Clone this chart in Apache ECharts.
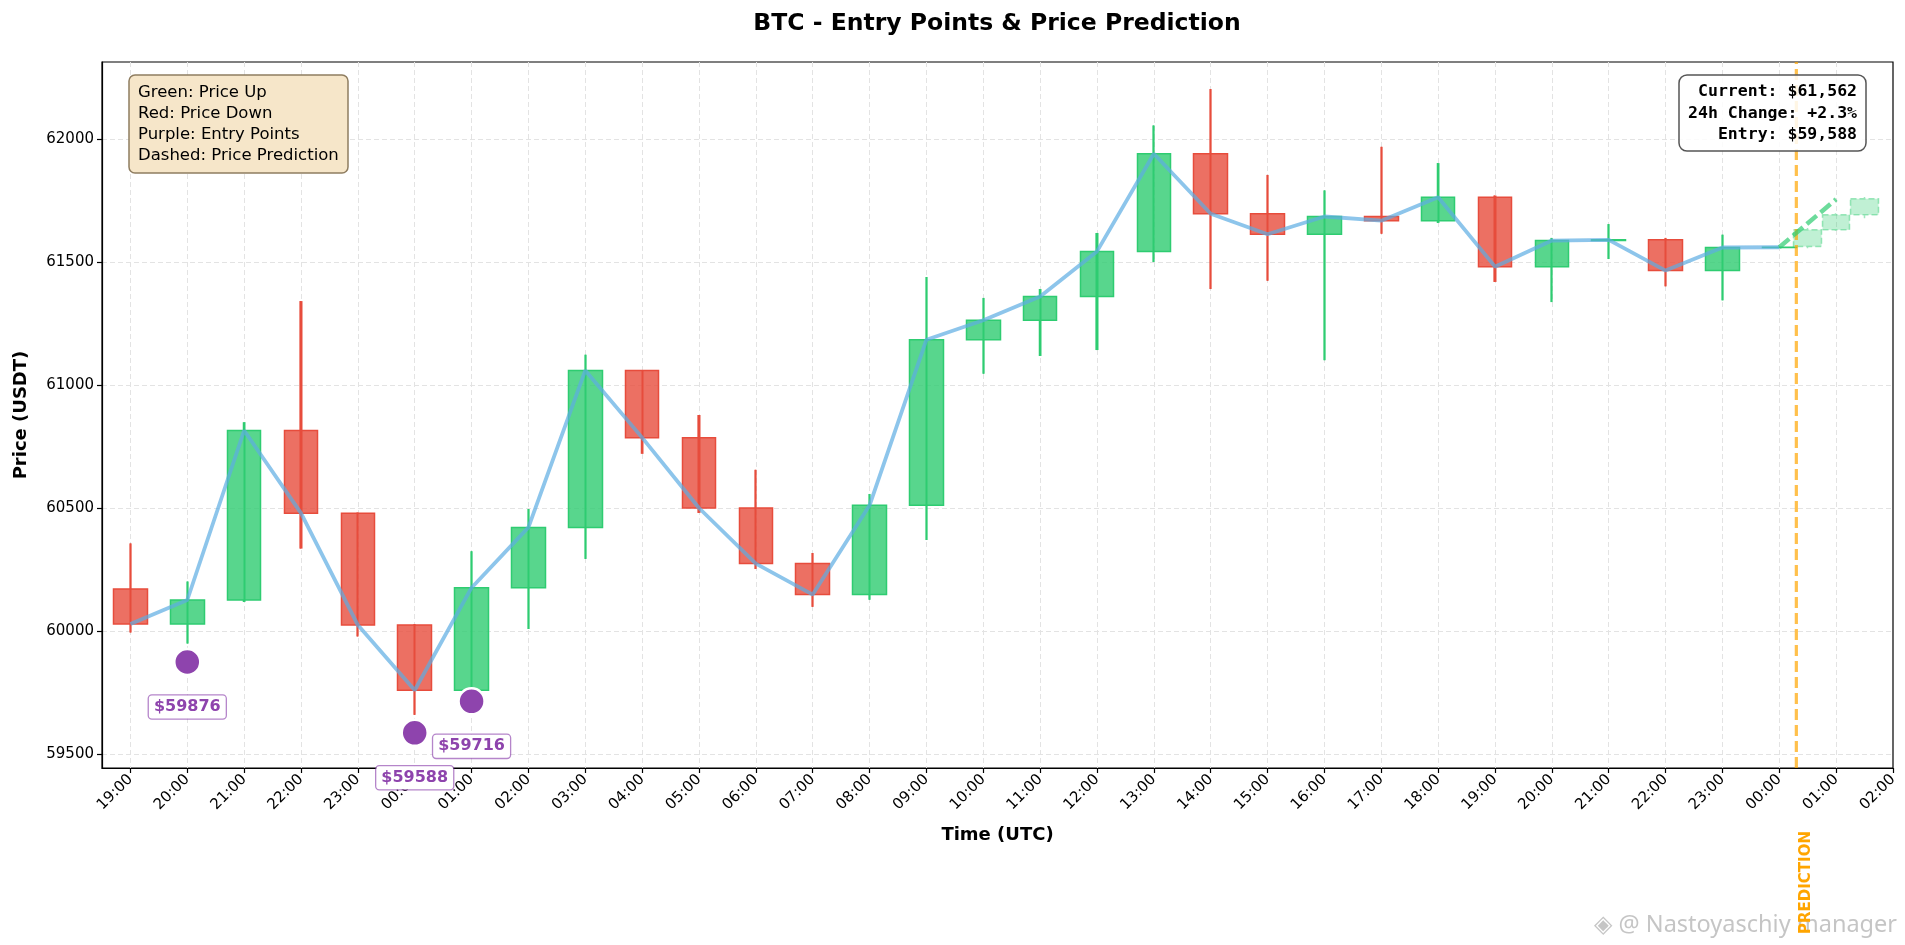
<!DOCTYPE html>
<html>
<head>
<meta charset="utf-8">
<title>BTC - Entry Points & Price Prediction</title>
<script src="https://cdn.jsdelivr.net/npm/echarts@6/dist/echarts.min.js"></script>
<style>
  html, body { margin: 0; padding: 0; background: #fff; }
  #chart { width: 1905px; height: 945px; }
</style>
</head>
<body>
<div id="chart"></div>
<script>
"use strict";

// hourly tick labels, 19:00 (day 1) .. 02:00 (day 3)
const tickLabels = ['19:00', '20:00', '21:00', '22:00', '23:00', '00:00', '01:00', '02:00',
  '03:00', '04:00', '05:00', '06:00', '07:00', '08:00', '09:00', '10:00', '11:00', '12:00',
  '13:00', '14:00', '15:00', '16:00', '17:00', '18:00', '19:00', '20:00', '21:00', '22:00',
  '23:00', '00:00', '01:00', '02:00'];

// hourly candles, index = hours after the first 19:00
const candleOpen  = [60173, 60030, 60128, 60817, 60481, 60026, 59761, 60178, 60423, 61061,
  60788, 60502, 60276, 60150, 60513, 61186, 61265, 61362, 61545, 61942,
  61698, 61615, 61687, 61670, 61765, 61483, 61589, 61592, 61467, 61561];
const candleClose = [60030, 60128, 60817, 60481, 60026, 59761, 60178, 60423, 61061, 60788,
  60502, 60276, 60150, 60513, 61186, 61265, 61362, 61545, 61942, 61698,
  61615, 61687, 61670, 61765, 61483, 61589, 61592, 61467, 61561, 61562];
const candleLow   = [59996, 59951, 60120, 60337, 59980, 59661, 59758, 60010, 60295, 60722,
  60482, 60254, 60100, 60129, 60372, 61048, 61120, 61144, 61502, 61392,
  61426, 61103, 61617, 61661, 61421, 61339, 61514, 61403, 61346, 61560];
const candleHigh  = [60358, 60203, 60851, 61343, 60484, 60030, 60326, 60498, 61125, 61061,
  60880, 60657, 60319, 60559, 61441, 61356, 61392, 61620, 62057, 62205,
  61856, 61793, 61970, 61904, 61772, 61600, 61656, 61600, 61613, 61563];

// predicted half-hour candles
const predHours = [29.5, 30, 30.5];
const predOpen  = [61565, 61633, 61694];
const predClose = [61633, 61694, 61759];
const predLow   = [61558, 61628, 61680];
const predHigh  = [61640, 61700, 61766];

// dashed prediction line
const predLineHours  = [29, 30];
const predLineValues = [61562, 61757];

// entry points
const entryHours  = [1, 5, 6];
const entryPrices = [59876, 59588, 59716];

// prediction start marker (hours after first 19:00)
const nowHour = 29.3;

// y axis
const yMin = 59445;
const yMax = 62315;
const yTicks = [59500, 60000, 60500, 61000, 61500, 62000];

const legendLines = ['Green: Price Up', 'Red: Price Down', 'Purple: Entry Points', 'Dashed: Price Prediction'];
const infoLines = ['Current: $61,562', '24h Change: +2.3%', 'Entry: $59,588'];

const GREEN = '#2ECC71';
const RED = '#E74C3C';
const FONT = 'DejaVu Sans';

// half-hour slots: slot 0 = 18:30, odd slots are the whole hours
const slotNames = [];
for (let k = 0; k < tickLabels.length * 2; k++) {
  slotNames.push(k % 2 === 1 ? tickLabels[(k - 1) / 2] : '');
}
const lastSlot = slotNames.length - 1;
const hourToSlot = h => Math.round(h * 2 + 1);
const onHour = idx => idx % 2 === 1;
const onInnerHour = idx => idx % 2 === 1 && idx !== lastSlot;

const candleRows = candleOpen.map((o, i) => [hourToSlot(i), o, candleClose[i], candleLow[i], candleHigh[i]]);
const wickRows = candleOpen.map((o, i) => ({
  value: [hourToSlot(i), candleLow[i], candleHigh[i], candleLow[i], candleHigh[i]],
  itemStyle: { color: candleClose[i] >= o ? GREEN : RED }
}));
const closeRows = candleClose.map((c, i) => [hourToSlot(i), c]);
const predRows = predHours.map((h, i) => [hourToSlot(h), predOpen[i], predClose[i], predLow[i], predHigh[i]]);
const predLineRows = predLineHours.map((h, i) => [hourToSlot(h), predLineValues[i]]);
const entryRows = entryHours.map((h, i) => [hourToSlot(h), entryPrices[i]]);

const chart = echarts.init(document.getElementById('chart'), null, { renderer: 'canvas' });

const option = {
  animation: false,
  backgroundColor: '#fff',
  textStyle: { fontFamily: FONT },
  title: [
    {
      text: 'BTC - Entry Points & Price Prediction',
      left: 997, top: 12, padding: 0,
      textAlign: 'center', textVerticalAlign: 'top',
      textStyle: { fontFamily: FONT, fontSize: 23.5, fontWeight: 'bold', color: '#000' }
    },
    {
      text: legendLines.join('\n'),
      left: 129, top: 75, padding: [7, 9, 7, 9],
      textAlign: 'left', textVerticalAlign: 'top',
      backgroundColor: '#f6e6c9', borderColor: '#8f7d60', borderWidth: 1.5, borderRadius: 6,
      textStyle: { fontFamily: FONT, fontSize: 16.5, fontWeight: 'normal', lineHeight: 21, color: '#000' }
    },
    {
      text: infoLines.join('\n'),
      left: 1848, top: 75, padding: [6, 9, 6, 9],
      textAlign: 'right', textVerticalAlign: 'top',
      backgroundColor: 'rgba(255,255,255,0.85)', borderColor: '#555', borderWidth: 1.5, borderRadius: 8,
      textStyle: { fontFamily: 'DejaVu Sans Mono', fontSize: 16.5, fontWeight: 'bold', lineHeight: 21.5, color: '#000' }
    }
  ],
  grid: {
    left: 102, right: 12, top: 62, bottom: 177,
    show: true, borderColor: '#000', borderWidth: 1.2, backgroundColor: 'transparent'
  },
  xAxis: [
    {
      type: 'category',
      data: slotNames,
      boundaryGap: false,
      name: 'Time (UTC)',
      nameLocation: 'middle',
      nameGap: 58,
      nameTextStyle: { fontFamily: FONT, fontSize: 18, fontWeight: 'bold', color: '#000' },
      axisLine: { onZero: false, lineStyle: { color: '#000', width: 1.2 } },
      axisTick: { interval: onHour, length: 5, lineStyle: { color: '#000', width: 1.2 } },
      axisLabel: { interval: onHour, rotate: 45, margin: 9, fontSize: 15, color: '#000', fontFamily: FONT },
      splitLine: { show: true, interval: onInnerHour, lineStyle: { color: '#e3e3e3', width: 1, type: [5, 3] } }
    },
    { type: 'value', min: -0.5, max: 31, show: false }
  ],
  yAxis: {
    type: 'value',
    min: yMin, max: yMax,
    minInterval: 500, maxInterval: 500,
    name: 'Price (USDT)',
    nameLocation: 'middle',
    nameRotate: 90,
    nameGap: 72,
    nameTextStyle: { fontFamily: FONT, fontSize: 18, fontWeight: 'bold', color: '#000' },
    axisLine: { show: true, onZero: false, lineStyle: { color: '#000', width: 1.2 } },
    axisTick: { show: true, length: 5, customValues: yTicks, lineStyle: { color: '#000', width: 1.2 } },
    axisLabel: {
      customValues: yTicks, margin: 8, fontSize: 15, color: '#000', fontFamily: FONT,
      formatter: v => (v % 500 === 0 ? String(v) : '')
    },
    splitLine: { show: true, lineStyle: { color: '#e3e3e3', width: 1, type: [5, 3] } }
  },
  series: [
    {
      name: 'candles',
      type: 'candlestick',
      xAxisIndex: 0,
      data: candleRows,
      encode: { x: 0, y: [1, 2, 3, 4] },
      barWidth: 34,
      z: 2,
      itemStyle: {
        color: 'rgba(46,204,113,0.8)', color0: 'rgba(231,76,60,0.8)',
        borderColor: GREEN, borderColor0: RED, borderWidth: 1.5
      }
    },
    {
      name: 'wicks',
      type: 'candlestick',
      xAxisIndex: 0,
      data: wickRows,
      encode: { x: 0, y: [1, 2, 3, 4] },
      barWidth: 2.6,
      z: 3,
      itemStyle: { borderWidth: 0, color: GREEN, color0: RED }
    },
    {
      name: 'prediction candles',
      type: 'candlestick',
      xAxisIndex: 0,
      data: predRows,
      encode: { x: 0, y: [1, 2, 3, 4] },
      barWidth: 28,
      z: 2,
      itemStyle: {
        color: 'rgba(46,204,113,0.3)', color0: 'rgba(231,76,60,0.3)',
        borderColor: 'rgba(46,204,113,0.45)', borderColor0: 'rgba(231,76,60,0.45)',
        borderWidth: 1.5, borderType: 'dashed'
      }
    },
    {
      name: 'close',
      type: 'line',
      xAxisIndex: 0,
      data: closeRows,
      showSymbol: false,
      symbol: 'none',
      z: 4,
      lineStyle: { color: 'rgba(93,173,226,0.7)', width: 3.8 }
    },
    {
      name: 'prediction start',
      type: 'line',
      xAxisIndex: 1,
      data: [[nowHour, yMin], [nowHour, yMax]],
      showSymbol: false,
      symbol: 'none',
      z: 5,
      lineStyle: { color: 'rgba(255,165,0,0.7)', width: 3.2, type: [11, 5] }
    },
    {
      name: 'prediction',
      type: 'line',
      xAxisIndex: 0,
      data: predLineRows,
      showSymbol: false,
      symbol: 'none',
      z: 6,
      lineStyle: { color: 'rgba(46,204,113,0.7)', width: 4.5, type: [13, 5] }
    },
    {
      name: 'entry',
      type: 'scatter',
      xAxisIndex: 0,
      data: entryRows,
      symbolSize: 26,
      z: 7,
      itemStyle: { color: '#8E44AD', borderColor: '#fff', borderWidth: 2.5, opacity: 1 },
      label: {
        show: true,
        position: 'inside',
        offset: [0, 45],
        formatter: p => '$' + p.value[1],
        color: '#8E44AD',
        fontFamily: FONT,
        fontWeight: 'bold',
        fontSize: 16,
        backgroundColor: '#fff',
        borderColor: 'rgba(142,68,173,0.65)',
        borderWidth: 1.3,
        borderRadius: 3,
        padding: [4, 5, 3, 5]
      }
    }
  ]
};

chart.setOption(option);

// annotations placed from the axes after layout
const nowX = chart.convertToPixel({ xAxisIndex: 1 }, nowHour);
chart.setOption({
  graphic: [
    {
      type: 'text',
      right: 8,
      bottom: 8,
      z: 50,
      style: {
        text: '\u25C8 @ Nastoyaschiy manager',
        font: '23.5px "Noto Sans"',
        fill: 'rgba(150,150,150,0.55)'
      }
    },
    {
      type: 'text',
      x: nowX + 2.5,
      y: 934,
      rotation: Math.PI / 2,
      z: 60,
      style: {
        text: 'PREDICTION',
        font: 'bold 15px "DejaVu Sans"',
        fill: '#FFA500',
        textAlign: 'left',
        textVerticalAlign: 'top'
      }
    }
  ]
});
</script>
</body>
</html>
